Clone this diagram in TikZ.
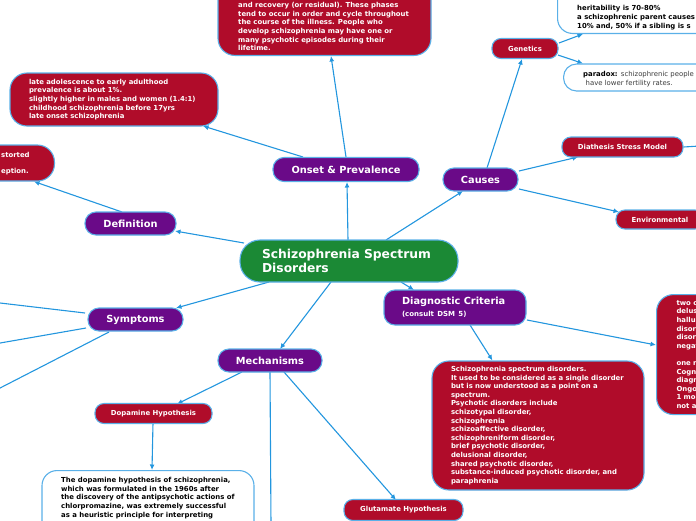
\documentclass[tikz,border=0pt]{standalone}
\usepackage{fontspec}
\setmainfont{DejaVu Sans}
\usetikzlibrary{arrows.meta,calc,backgrounds}
\definecolor{mpurple}{RGB}{106,10,136}
\definecolor{mred}{RGB}{176,12,42}
\definecolor{mgreen}{RGB}{27,137,53}
\definecolor{mline}{RGB}{35,150,222}
\definecolor{mborder}{RGB}{90,176,232}
\definecolor{mgray}{RGB}{60,60,60}
\tikzset{
  basebox/.style={draw=mborder, line width=1.1pt, text=white, inner sep=0pt},
  topic/.style={basebox, fill=mpurple, rounded corners=11pt, font=\fontsize{9.8}{11}\selectfont\bfseries},
  subtopic/.style={basebox, fill=mred, rounded corners=9pt, font=\fontsize{6.9}{8}\selectfont\bfseries},
  redbox/.style={basebox, fill=mred, rounded corners=17pt},
  whitebox/.style={draw=mborder, line width=1.1pt, fill=white, inner sep=0pt},
  bodytext/.style={font=\fontsize{6.9}{8.6}\selectfont\bfseries, align=left, inner sep=0pt},
  conn/.style={draw=mline, line width=1.1pt, -{Latex[length=5.5pt,width=5pt]}},
  plainconn/.style={draw=mline, line width=1.1pt},
}
\begin{document}
\begin{tikzpicture}[x=1pt,y=1pt]
\useasboundingbox (0,0) rectangle (696,-520);
% ---------- main nodes
\node[basebox, fill=mgreen, rounded corners=20pt, minimum width=218pt, minimum height=42pt,
      text width=174pt, align=left, font=\fontsize{12.3}{14.5}\selectfont\bfseries]
      (central) at (349,-261) {Schizophrenia Spectrum\\Disorders};
\node[topic, minimum width=146pt, minimum height=24pt] (onset) at (346,-169.5) {Onset \& Prevalence};
\node[topic, minimum width=75pt, minimum height=23pt] (causes) at (480.5,-179.5) {Causes};
\node[topic, minimum width=91pt, minimum height=23pt] (definition) at (130.5,-223.5) {Definition};
\node[topic, minimum width=95pt, minimum height=23pt] (symptoms) at (135.5,-319.5) {Symptoms};
\node[topic, minimum width=104pt, minimum height=23pt] (mechanisms) at (270,-360.5) {Mechanisms};
\node[topic, minimum width=142pt, minimum height=35pt, text width=106pt, align=left,
      font=\fontsize{9.8}{12}\selectfont\bfseries]
      (diag) at (455,-307.5) {Diagnostic Criteria\\{\fontsize{7}{8}\selectfont (consult DSM 5)}};
% ---------- sub nodes
\node[subtopic, minimum width=66pt, minimum height=20pt] (genetics) at (525,-48.5) {Genetics};
\node[subtopic, minimum width=121pt, minimum height=20pt] (diathesis) at (622.5,-147) {Diathesis Stress Model};
\node[subtopic, minimum width=88pt, minimum height=19pt] (environmental) at (660,-219.5) {Environmental};
\node[subtopic, minimum width=117pt, minimum height=20pt] (dopamine) at (153.5,-413.5) {Dopamine Hypothesis};
\node[subtopic, minimum width=119pt, minimum height=21pt] (glutamate) at (403.5,-510) {Glutamate Hypothesis};
% ---------- text boxes
\node[redbox, minimum width=213pt, minimum height=110pt, anchor=south] (topbox) at (324.5,-56) {};
\node[bodytext, text=white, anchor=north west] (toptext) at (238,-2.3)
  {and recovery (or residual). These phases\\
   tend to occur in order and cycle throughout\\
   the course of the illness. People who\\
   develop schizophrenia may have one or\\
   many psychotic episodes during their\\
   lifetime.};
\node[redbox, bodytext, text=white, minimum width=208pt, minimum height=53pt, text width=170pt]
  (onsetbox) at (114,-99.5)
  {late adolescence to early adulthood\\
   prevalence is about 1\%.\\
   slightly higher in males and women (1.4:1)\\
   childhood schizophrenia before 17yrs\\
   late onset schizophrenia};
\node[redbox, minimum width=160pt, minimum height=36pt, anchor=east] (defbox) at (55,-163) {};
\node[bodytext, text=white, anchor=north west] (deftext) at (1,-152.3) {storted\\[7.4pt]eption.};
\node[whitebox, rounded corners=15pt, minimum width=200pt, minimum height=90pt, anchor=south west] (gen1) at (557,-34) {};
\node[bodytext, text=black, anchor=north west] (gen1text) at (577,-5.5)
  {heritability is 70-80\%\\
   a schizophrenic parent causes\\
   10\% and, 50\% if a sibling is s};
\node[whitebox, rounded corners=13pt, minimum width=200pt, minimum height=27pt, anchor=west] (gen2) at (563,-77.5) {};
\node[bodytext, text=black, anchor=north west] (gen2text) at (583,-71.3)
  {paradox: {\mdseries\color{mgray}schizophrenic people}\\
   \hspace*{2.5pt}{\mdseries\color{mgray}have lower fertility rates.}};
\node[redbox, bodytext, text=white, minimum width=110pt, minimum height=120pt, text width=70pt, anchor=north west]
  (diagright) at (656,-294)
  {two o\\ delus\\ halluc\\ disorg\\ disorg\\ negat\\[8.6pt]
   one m\\ Cogni\\ diagn\\ Ongo\\ 1 mon\\ not a};
\node[redbox, bodytext, text=white, minimum width=212pt, minimum height=129pt, text width=174pt]
  (diagbox) at (538,-425.5)
  {Schizophrenia spectrum disorders.\\
   It used to be considered as a single disorder\\
   but is now understood as a point on a\\
   spectrum.\\
   Psychotic disorders include\\
   schizotypal disorder,\\
   schizophrenia\\
   schizoaffective disorder,\\
   schizophreniform disorder,\\
   brief psychotic disorder,\\
   delusional disorder,\\
   shared psychotic disorder,\\
   substance-induced psychotic disorder, and\\
   paraphrenia};
\node[whitebox, rounded corners=15pt, minimum width=212pt, minimum height=90pt, anchor=north] (dopbox) at (148,-470) {};
\node[bodytext, text=black, anchor=north west] (doptext) at (61,-477.3)
  {The dopamine hypothesis of schizophrenia,\\
   which was formulated in the 1960s after\\
   the discovery of the antipsychotic actions of\\
   chlorpromazine, was extremely successful\\
   as a heuristic principle for interpreting};
% ---------- free ends
\coordinate (diout) at (700,-146);
\coordinate (sl1) at (-5,-302.4);
\coordinate (sl2) at (-5,-343.9);
\coordinate (sl3) at (-5,-390.6);
\coordinate (mdown) at (271,-525);
% ---------- connectors
\begin{scope}[on background layer]
\draw[conn] ($(central)+(-80,-21)$) -- ($(symptoms)+(40.5,11.5)$);
\draw[conn] ($(central)+(-105,18)$) -- ($(definition)+(44.5,-7.5)$);
\draw[conn] ($(central)+(-1,21)$) -- ($(onset)+(1,-12.5)$);
\draw[conn] ($(central)+(37,21)$) -- ($(causes)+(-17.5,-11.5)$);
\draw[conn] ($(central)+(52,-21)$) -- ($(diag)+(-41,17.5)$);
\draw[conn] ($(central)+(-18,-21)$) -- ($(mechanisms)+(10,11.5)$);
\draw[conn] ($(onset)+(0,12.5)$) -- ($(topbox.south)+(6.5,0)$);
\draw[conn] ($(onset)+(-43,12.5)$) -- ($(onsetbox)+(89,-26.5)$);
\draw[conn] ($(definition)+(-8.5,11.5)$) -- ($(defbox.south east)+(-21,0)$);
\draw[conn] ($(causes)+(6.5,11.5)$) -- ($(genetics)+(-3,-10.5)$);
\draw[conn] ($(causes)+(38.5,8.5)$) -- ($(diathesis)+(-44.5,-10)$);
\draw[conn] ($(causes)+(38.5,-9.5)$) -- ($(environmental)+(-41,7.5)$);
\draw[conn] ($(genetics)+(34,5.5)$) -- ($(gen1.south west)+(26,0)$);
\draw[conn] ($(genetics)+(33,-6.5)$) -- ($(gen2.north west)+(20,0)$);
\draw[plainconn] (diathesis.east) -- (diout);
\draw[conn] ($(diag)+(72,-12.5)$) -- ($(diagright.north west)+(0,-51)$);
\draw[conn] ($(diag)+(15,-17.5)$) -- ($(diagbox.north west)+(61,0)$);
\draw[plainconn] ($(symptoms)+(-50.5,6.5)$) -- (sl1);
\draw[plainconn] ($(symptoms)+(-49.5,-8.5)$) -- (sl2);
\draw[plainconn] ($(symptoms)+(-26.5,-12.5)$) -- (sl3);
\draw[conn] ($(mechanisms)+(-28,-11.5)$) -- ($(dopamine)+(23.5,9.5)$);
\draw[plainconn] ($(mechanisms)+(0,-11.5)$) -- (mdown);
\draw[conn] ($(mechanisms)+(14,-11.5)$) -- ($(glutamate)+(-7.5,10)$);
\draw[conn] ($(dopamine)+(-0.5,-9.5)$) -- ($(dopbox.north)+(4,0)$);
\end{scope}
\end{tikzpicture}
\end{document}
